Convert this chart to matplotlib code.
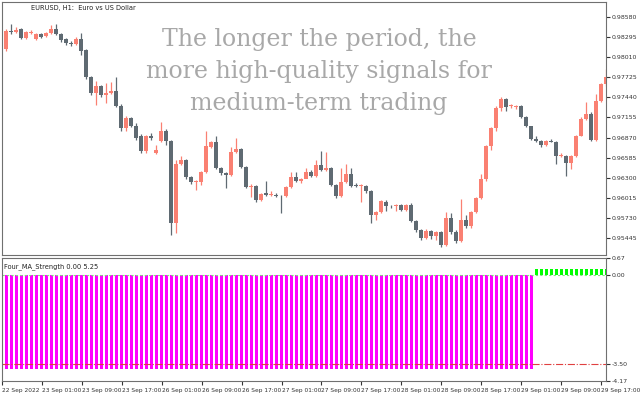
import matplotlib
matplotlib.use("Agg")
import matplotlib.pyplot as plt
import numpy as np

opens = [0.98367,0.98124,0.98381,0.98367,0.98409,0.98281,0.98352,0.98267,0.98338,0.98310,
0.98352,0.98409,0.98338,0.98267,0.98210,0.98196,0.98267,0.98110,0.97725,0.97497,
0.97597,0.97469,0.97497,0.97526,0.97312,0.96999,0.97141,0.97041,0.96899,0.96685,
0.96885,0.96657,0.96828,0.96956,0.96828,0.95659,0.96500,0.96557,0.96315,0.96243,
0.96243,0.96386,0.96742,0.96813,0.96443,0.96372,0.96343,0.96671,0.96714,0.96457,
0.96172,0.96186,0.95987,0.96087,0.96058,0.96058,0.96044,0.96044,0.96172,0.96315,
0.96258,0.96286,0.96386,0.96329,0.96486,0.96414,0.96443,0.96201,0.96044,0.96243,
0.96357,0.96201,0.96186,0.96186,0.96115,0.95773,0.95816,0.95958,0.95901,0.95901,
0.95916,0.95844,0.95916,0.95687,0.95559,0.95445,0.95545,0.95474,0.95531,0.95346,
0.95730,0.95531,0.95403,0.95702,0.95617,0.95816,0.96015,0.96286,0.96756,0.96999,
0.97284,0.97412,0.97312,0.97298,0.97312,0.97155,0.97027,0.96856,0.96828,0.96771,
0.96828,0.96813,0.96614,0.96614,0.96514,0.96614,0.96899,0.97127,0.97198,0.96842,
0.97383,0.97626]
closes = [0.98124,0.98381,0.98367,0.98395,0.98281,0.98367,0.98367,0.98338,0.98295,0.98352,
0.98409,0.98338,0.98253,0.98210,0.98196,0.98267,0.98096,0.97725,0.97497,0.97597,
0.97469,0.97497,0.97526,0.97312,0.96999,0.97141,0.97041,0.96870,0.96685,0.96899,
0.96870,0.96699,0.96970,0.96828,0.95659,0.96500,0.96557,0.96315,0.96243,0.96258,
0.96386,0.96756,0.96813,0.96443,0.96372,0.96343,0.96671,0.96714,0.96457,0.96172,
0.96186,0.95987,0.96072,0.96058,0.96065,0.96044,0.96037,0.96172,0.96315,0.96258,
0.96286,0.96386,0.96329,0.96486,0.96414,0.96443,0.96201,0.96044,0.96243,0.96357,
0.96186,0.96186,0.96193,0.96115,0.95773,0.95816,0.95972,0.95901,0.95894,0.95916,
0.95844,0.95916,0.95687,0.95559,0.95445,0.95545,0.95474,0.95531,0.95346,0.95730,
0.95531,0.95403,0.95702,0.95617,0.95816,0.96015,0.96286,0.96756,0.96999,0.97284,
0.97412,0.97298,0.97326,0.97312,0.97155,0.97027,0.96856,0.96828,0.96771,0.96828,
0.96813,0.96614,0.96628,0.96514,0.96614,0.96899,0.97127,0.97198,0.96842,0.97383,
0.97626,0.97725]
highs = [0.98395,0.98409,0.98481,0.98437,0.98423,0.98381,0.98395,0.98352,0.98352,0.98367,
0.98466,0.98481,0.98352,0.98281,0.98238,0.98295,0.98352,0.98124,0.97739,0.97668,
0.97611,0.97640,0.97654,0.97725,0.97340,0.97169,0.97155,0.97070,0.96927,0.96913,
0.96941,0.96771,0.97084,0.96985,0.96842,0.96557,0.96614,0.96571,0.96329,0.96272,
0.96400,0.96970,0.96827,0.96885,0.96457,0.96386,0.96742,0.96870,0.96728,0.96471,
0.96215,0.96200,0.96087,0.96258,0.96115,0.96087,0.96058,0.96186,0.96386,0.96386,
0.96300,0.96443,0.96414,0.96557,0.96685,0.96671,0.96457,0.96215,0.96443,0.96500,
0.96443,0.96229,0.96215,0.96200,0.96129,0.95830,0.95987,0.95987,0.95916,0.95930,
0.95930,0.95930,0.95944,0.95702,0.95573,0.95573,0.95559,0.95545,0.95545,0.95816,
0.95801,0.95559,0.96001,0.95773,0.95830,0.96030,0.96357,0.96770,0.97013,0.97312,
0.97440,0.97426,0.97340,0.97326,0.97326,0.97169,0.97041,0.96899,0.96842,0.96842,
0.96856,0.96827,0.96657,0.96628,0.96628,0.96913,0.97155,0.97369,0.97226,0.97483,
0.97640,0.97840]
lows = [0.98096,0.98096,0.98338,0.98352,0.98267,0.98267,0.98338,0.98253,0.98281,0.98295,
0.98338,0.98324,0.98224,0.98181,0.98167,0.98181,0.98038,0.97697,0.97469,0.97326,
0.97440,0.97355,0.97483,0.97298,0.96970,0.96970,0.97013,0.96842,0.96657,0.96657,
0.96842,0.96642,0.96813,0.96770,0.95488,0.95517,0.96486,0.96286,0.96215,0.96130,
0.96200,0.96372,0.96728,0.96429,0.96343,0.96159,0.96329,0.96657,0.96443,0.96158,
0.96030,0.95958,0.95973,0.96044,0.96044,0.96030,0.95801,0.96030,0.96158,0.96244,
0.96230,0.96372,0.96315,0.96315,0.96400,0.96400,0.96186,0.96015,0.96030,0.96229,
0.96172,0.96172,0.95958,0.96087,0.95659,0.95700,0.95802,0.95830,0.95873,0.95830,
0.95830,0.95830,0.95673,0.95531,0.95417,0.95431,0.95431,0.95417,0.95318,0.95332,
0.95503,0.95374,0.95389,0.95588,0.95588,0.95801,0.96001,0.96258,0.96700,0.96970,
0.97241,0.97241,0.97284,0.97270,0.97141,0.97013,0.96842,0.96813,0.96742,0.96757,
0.96800,0.96500,0.96600,0.96329,0.96429,0.96600,0.96885,0.97113,0.96827,0.96828,
0.97369,0.97600]

n_bear = 107
n_bull = 15
strength = [-3.7] * n_bear + [0.25] * n_bull

price_ticks = [0.98580,0.98295,0.98010,0.97725,0.97440,0.97155,0.96870,0.96585,0.96300,0.96015,0.95730,0.95445]
ind_ticks = [0.67, 0.00, -3.50, -4.17]
time_labels = ["22 Sep 2022","23 Sep 01:00","23 Sep 09:00","23 Sep 17:00","26 Sep 01:00","26 Sep 09:00",
"26 Sep 17:00","27 Sep 01:00","27 Sep 09:00","27 Sep 17:00","28 Sep 01:00","28 Sep 09:00",
"28 Sep 17:00","29 Sep 01:00","29 Sep 09:00","29 Sep 17:00"]

UP = "#FA8072"
DN = "#5F6A72"
fig = plt.figure(figsize=(6.4, 4.0), dpi=100)
ax = fig.add_axes([2/640, 145/400, 604/640, 253/400])
ax2 = fig.add_axes([2/640, 19/400, 604/640, 123/400])

x = np.arange(len(opens))
o = np.array(opens); c = np.array(closes); h = np.array(highs); l = np.array(lows)
col = np.where(c >= o, UP, DN)
ax.vlines(x, l, h, colors=col, linewidth=0.9)
body = np.maximum(np.abs(c - o), 0.00004)
ax.bar(x, body, bottom=np.minimum(o, c), width=0.62, color=col, linewidth=0)
ax.set_xlim(0.2, 121.0)
ax.set_ylim(0.95203, 0.98794)

for a in (ax, ax2):
    a.yaxis.tick_right()
    for s in a.spines.values():
        s.set_color("#707070"); s.set_linewidth(0.8)
    a.tick_params(axis="y", direction="out", length=3, labelsize=4.5, colors="#333333", pad=1)
ax.set_yticks(price_ticks)
ax.set_yticklabels([f"{v:.5f}" for v in price_ticks])
ax.set_xticks([])

ax.text(0.525, 0.725, "The longer the period, the\nmore high-quality signals for\nmedium-term trading",
        transform=ax.transAxes, ha="center", va="center", fontsize=17, color="#A8A8A8",
        family="DejaVu Serif", linespacing=1.5, zorder=5)
ax.text(29/604, 0.975, "EURUSD, H1:  Euro vs US Dollar", transform=ax.transAxes, fontsize=4.8,
        va="center", ha="left", color="#222222")

xs = np.arange(len(strength))
cols2 = ["#FF00FF" if v < 0 else "#00FF00" for v in strength]
ax2.bar(xs, strength, width=0.6, color=cols2, linewidth=0)
ax2.axhline(0.0, color="#80E080", linestyle=(0, (2, 2)), linewidth=0.8)
ax2.axhline(-3.5, color="#E04040", linestyle="-.", linewidth=0.8)
ax2.set_xlim(0.2, 121.0)
ax2.set_ylim(-4.17, 0.67)
ax2.set_yticks(ind_ticks)
ax2.set_yticklabels([f"{v:.2f}" for v in ind_ticks])
ax2.text(0.004, 0.93, "Four_MA_Strength 0.00 5.25", transform=ax2.transAxes, fontsize=4.8,
         va="center", ha="left", color="#222222")
tick_pos = list(range(0, 121, 8))
ax2.set_xticks(tick_pos)
ax2.set_xticklabels(time_labels, ha="left")
ax2.tick_params(axis="x", direction="out", length=3, labelsize=4.2, colors="#333333", pad=2)

fig.savefig("out.png", dpi=100, facecolor="white")
